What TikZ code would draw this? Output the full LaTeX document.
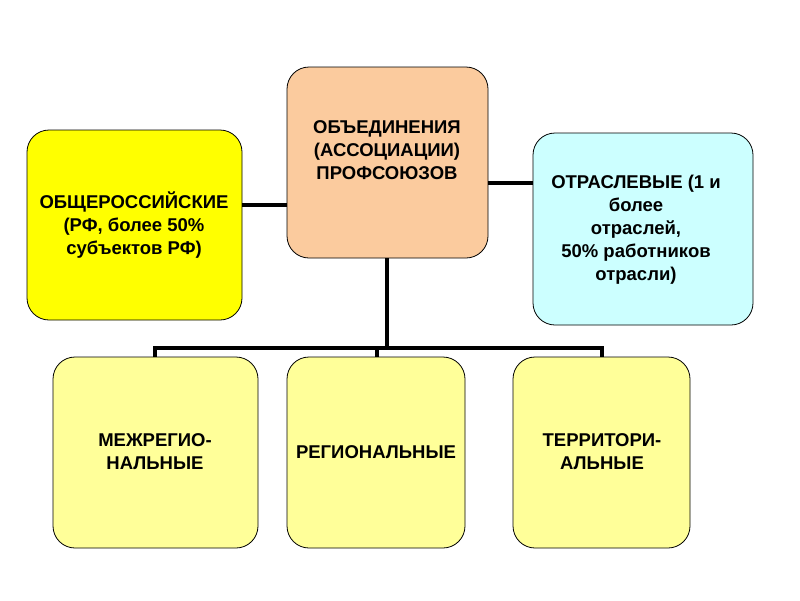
\documentclass[tikz,border=0pt]{standalone}
\usepackage{fontspec}
\setmainfont{Liberation Sans}
\begin{document}
\begin{tikzpicture}[x=1pt,y=-1pt,
  box/.style={draw=black, line width=0.8pt, rounded corners=22pt},
  lbl/.style={font=\bfseries\fontsize{18.5}{23}\selectfont, align=center},
  conn/.style={line width=3.5pt, black}]
\useasboundingbox (0,0) rectangle (800,600);
\fill[white] (0,0) rectangle (800,600);
\draw[box, fill={rgb,255:red,251;green,203;blue,158}] (287,67) rectangle (488,258);
\node[lbl] (c) at (387,150) {ОБЪЕДИНЕНИЯ\\(АССОЦИАЦИИ)\\ПРОФСОЮЗОВ};
\coordinate (cb) at (387,258);
\draw[box, fill={rgb,255:red,255;green,255;blue,0}] (27,130) rectangle (242,320);
\node[lbl] (l) at (134,225) {ОБЩЕРОССИЙСКИЕ\\(РФ, более 50\%\\субъектов РФ)};
\draw[box, fill={rgb,255:red,204;green,255;blue,255}] (533,133) rectangle (753,325);
\node[lbl] (r) at (636,230) {ОТРАСЛЕВЫЕ (1 и\\более\\отраслей,\\50\% работников\\отрасли)};
\foreach \a/\b in {53/258,287/465,513/690}{
  \draw[box, fill={rgb,255:red,255;green,255;blue,153}] (\a,357) rectangle (\b,548);
}
\node[lbl] (m1) at (155,452) {МЕЖРЕГИО-\\НАЛЬНЫЕ};
\node[lbl] (m2) at (376,452) {РЕГИОНАЛЬНЫЕ};
\node[lbl] (m3) at (602,452) {ТЕРРИТОРИ-\\АЛЬНЫЕ};
\coordinate (jl) at (242,205); \coordinate (jc) at (287,205);
\coordinate (kc) at (488,183); \coordinate (kr) at (533,183);
\draw[conn] (jl) -- (jc);
\draw[conn] (kc) -- (kr);
\coordinate (h) at (387,348);
\coordinate (h1) at (155,348); \coordinate (h3) at (602,348);
\coordinate (t1) at (155,357); \coordinate (t2) at (377,357); \coordinate (t3) at (602,357);
\draw[conn] (cb) -- (h);
\draw[conn, line cap=rect] (h1) -- (h3);
\draw[conn] (h1) -- (t1);
\draw[conn] (377,348) -- (t2);
\draw[conn] (h3) -- (t3);
\end{tikzpicture}
\end{document}
